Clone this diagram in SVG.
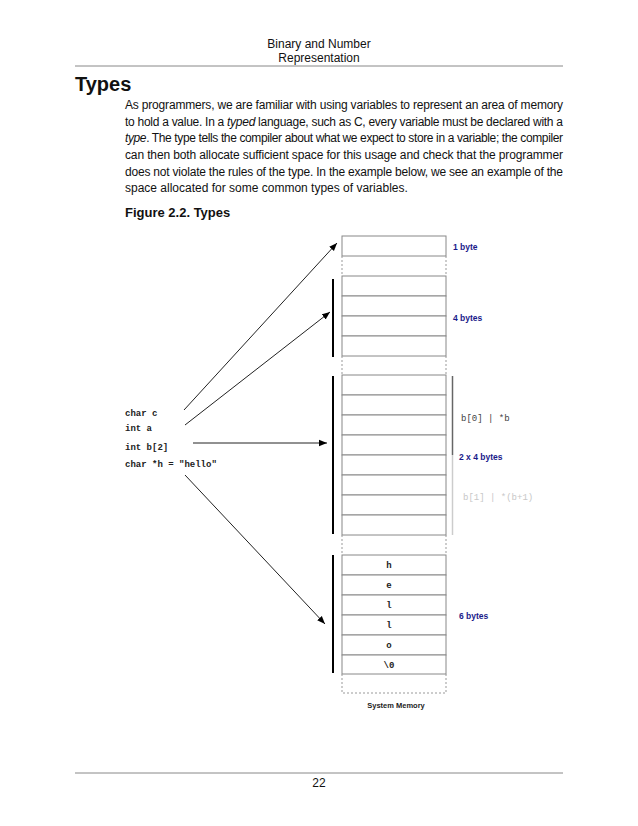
<svg xmlns="http://www.w3.org/2000/svg" width="638" height="826" viewBox="0 0 638 826">
<style>
.t{font-family:"Liberation Sans",Arial,sans-serif;fill:#111}
.p{font-size:12px}
.code{font-family:"Liberation Mono","Courier New",monospace;font-weight:bold;font-size:9px;fill:#222}
.lab{font-family:"Liberation Sans",Arial,sans-serif;font-weight:bold;font-size:8.5px;fill:#1a1a8a}
.cell{fill:#fff;stroke:#888;stroke-width:1}
.dash{stroke:#999;stroke-width:1;stroke-dasharray:2,2;fill:none}
.bar{stroke:#000;stroke-width:2}
.arr{stroke:#222;stroke-width:1;fill:none;marker-end:url(#ah)}
</style>
<defs>
<marker id="ah" viewBox="0 0 10 10" refX="10" refY="5" markerWidth="8" markerHeight="8" markerUnits="userSpaceOnUse" orient="auto">
<path d="M0,1 L10,5 L0,9 z" fill="#000"/>
</marker>
</defs>
<rect width="638" height="826" fill="#fff"/>
<g id="page">
<text class="t p" x="319" y="48" text-anchor="middle">Binary and Number</text>
<text class="t p" x="319" y="62" text-anchor="middle">Representation</text>
<line x1="75" y1="66" x2="563" y2="66" stroke="#888" stroke-width="1"/>
<text class="t" x="75" y="91" font-size="20" font-weight="bold">Types</text>
<text class="t p" x="125" y="109" textLength="438" lengthAdjust="spacing">As programmers, we are familiar with using variables to represent an area of memory</text>
<text class="t p" x="125" y="126" textLength="438" lengthAdjust="spacing">to hold a value. In a <tspan font-style="italic">typed</tspan> language, such as C, every variable must be declared with a</text>
<text class="t p" x="125" y="142" textLength="438" lengthAdjust="spacing"><tspan font-style="italic">type</tspan>. The type tells the compiler about what we expect to store in a variable; the compiler</text>
<text class="t p" x="125" y="159" textLength="438" lengthAdjust="spacing">can then both allocate sufficient space for this usage and check that the programmer</text>
<text class="t p" x="125" y="176" textLength="438" lengthAdjust="spacing">does not violate the rules of the type. In the example below, we see an example of the</text>
<text class="t p" x="125" y="192">space allocated for some common types of variables.</text>
<text class="t" x="125" y="217" font-size="13" font-weight="bold">Figure 2.2. Types</text>
<line x1="75" y1="773" x2="563" y2="773" stroke="#888" stroke-width="1"/>
<text class="t p" x="319" y="787" text-anchor="middle">22</text>
</g>
<g id="memory">
<rect class="cell" x="342" y="236" width="104" height="20"/>
<rect class="cell" x="342" y="276" width="104" height="20"/>
<rect class="cell" x="342" y="296" width="104" height="20"/>
<rect class="cell" x="342" y="316" width="104" height="20"/>
<rect class="cell" x="342" y="336" width="104" height="20"/>
<rect class="cell" x="342" y="375" width="104" height="20"/>
<rect class="cell" x="342" y="395" width="104" height="20"/>
<rect class="cell" x="342" y="415" width="104" height="20"/>
<rect class="cell" x="342" y="435" width="104" height="20"/>
<rect class="cell" x="342" y="455" width="104" height="20"/>
<rect class="cell" x="342" y="475" width="104" height="20"/>
<rect class="cell" x="342" y="495" width="104" height="20"/>
<rect class="cell" x="342" y="515" width="104" height="20"/>
<rect class="cell" x="342" y="555" width="104" height="20"/>
<rect class="cell" x="342" y="575" width="104" height="20"/>
<rect class="cell" x="342" y="595" width="104" height="20"/>
<rect class="cell" x="342" y="615" width="104" height="20"/>
<rect class="cell" x="342" y="635" width="104" height="20"/>
<rect class="cell" x="342" y="655" width="104" height="19"/>
<path class="dash" d="M342,256 V276 M446,256 V276 M342,356 V375 M446,356 V375 M342,535 V555 M446,535 V555 M342,674 V693 H446 V674"/>
<g text-anchor="middle" class="code" font-size="8.5">
<text x="389" y="568">h</text>
<text x="389" y="588">e</text>
<text x="389" y="608">l</text>
<text x="389" y="628">l</text>
<text x="389" y="648">o</text>
<text x="389" y="668">\0</text>
</g>
<text x="396" y="708" text-anchor="middle" font-family="Liberation Sans,Arial,sans-serif" font-weight="bold" font-size="7.5" fill="#222">System Memory</text>
</g>
<g id="brackets">
<line class="bar" x1="333" y1="279" x2="333" y2="357"/>
<line class="bar" x1="333" y1="376" x2="333" y2="534"/>
<line class="bar" x1="333" y1="555" x2="333" y2="673"/>
<line x1="452.5" y1="376" x2="452.5" y2="455" stroke="#666" stroke-width="1.5"/>
<line x1="452.5" y1="455" x2="452.5" y2="535" stroke="#ccc" stroke-width="1.5"/>
</g>
<g id="labels">
<text class="lab" x="453" y="250">1 byte</text>
<text class="lab" x="453" y="321">4 bytes</text>
<text class="lab" x="459" y="460">2 x 4 bytes</text>
<text class="lab" x="459" y="619">6 bytes</text>
<text x="461" y="421" font-family="Liberation Mono,Courier New,monospace" font-size="9" fill="#444">b[0] | *b</text>
<text x="463" y="500" font-family="Liberation Mono,Courier New,monospace" font-size="9" fill="#c8c8c8">b[1] | *(b+1)</text>
</g>
<g id="vars">
<text class="code" x="125" y="416">char c</text>
<text class="code" x="125" y="431">int a</text>
<text class="code" x="125" y="450">int b[2]</text>
<text class="code" x="125" y="467">char *h = "hello"</text>
</g>
<g id="connectors">
<line class="arr" x1="184" y1="410" x2="337" y2="243"/>
<line class="arr" x1="185" y1="425" x2="330" y2="312"/>
<line class="arr" x1="193" y1="443" x2="327" y2="443"/>
<line class="arr" x1="185" y1="475" x2="325" y2="624"/>
</g>
</svg>
